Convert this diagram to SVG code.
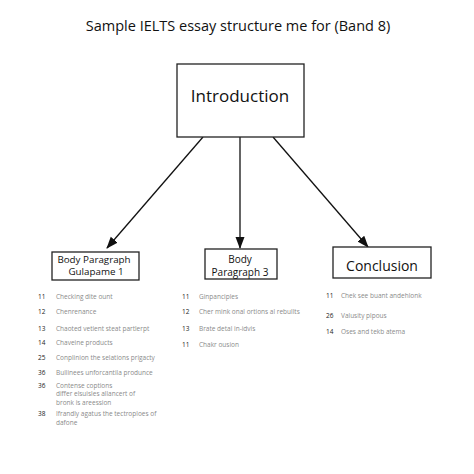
<svg xmlns="http://www.w3.org/2000/svg" width="474" height="474" viewBox="0 0 474 474">
<style>
.box{fill:#fff;stroke:#222;stroke-width:1.3}
.t{font-family:"Open Sans","Liberation Sans",sans-serif;fill:#111;text-anchor:middle}
.n{font-family:"Open Sans","Liberation Sans",sans-serif;font-size:6.5px;fill:#222}
.i{font-family:"Open Sans","Liberation Sans",sans-serif;font-size:6.5px;fill:#8a8a8a}
.c{stroke:#111;stroke-width:1.3;fill:none;marker-end:url(#a)}
</style>
<defs>
<marker id="a" markerWidth="12" markerHeight="10" refX="11" refY="4.5" orient="auto" markerUnits="userSpaceOnUse">
<path d="M0,0 L12,4.5 L0,9 Z" fill="#111"/>
</marker>
</defs>
<rect width="474" height="474" fill="#fff"/>
<text class="t" x="238" y="31" font-size="14.5">Sample IELTS essay structure me for (Band 8)</text>
<g id="connectors">
<line class="c" x1="203" y1="137" x2="107" y2="248"/>
<line class="c" x1="240" y1="137" x2="240" y2="248"/>
<line class="c" x1="273" y1="137" x2="368" y2="247"/>
</g>
<g id="intro">
<rect class="box" x="177" y="64" width="127" height="73"/>
<text class="t" x="240" y="102" font-size="17">Introduction</text>
</g>
<g id="body1">
<rect class="box" x="52" y="252" width="87" height="28"/>
<text class="t" x="94" y="263" font-size="9.8">Body Paragraph</text>
<text class="t" x="96" y="275" font-size="9.8">Gulapame 1</text>
</g>
<g id="body3">
<rect class="box" x="205" y="249" width="72" height="30"/>
<text class="t" x="240" y="263" font-size="10">Body</text>
<text class="t" x="240" y="276" font-size="10">Paragraph 3</text>
</g>
<g id="conclusion">
<rect class="box" x="333" y="247" width="98" height="31"/>
<text class="t" x="382" y="271" font-size="14">Conclusion</text>
</g>
<g id="list1">
<text class="n" x="38" y="299">11</text><text class="i" x="56" y="299">Checking dite ount</text>
<text class="n" x="38" y="314">12</text><text class="i" x="56" y="314">Chenrenance</text>
<text class="n" x="38" y="331">13</text><text class="i" x="56" y="331">Chaoted vetient steat partlerpt</text>
<text class="n" x="38" y="345">14</text><text class="i" x="56" y="345">Chaveine products</text>
<text class="n" x="38" y="360">25</text><text class="i" x="56" y="360">Conplinion the selations prigacty</text>
<text class="n" x="38" y="375">36</text><text class="i" x="56" y="375">Bullinees unforcantila produnce</text>
<text class="n" x="38" y="388">36</text><text class="i" x="56" y="388">Contense coptions</text>
<text class="i" x="56" y="396">differ elsuisles allancert of</text>
<text class="i" x="56" y="405">bronk is areession</text>
<text class="n" x="38" y="416">38</text><text class="i" x="56" y="416">Ifrandly agatus the tectroploes of</text>
<text class="i" x="56" y="425">dafone</text>
</g>
<g id="list2">
<text class="n" x="182" y="299">11</text><text class="i" x="199" y="299">Ginpanciples</text>
<text class="n" x="182" y="314">12</text><text class="i" x="199" y="314">Cher mink onal ortions al rebullts</text>
<text class="n" x="182" y="331">13</text><text class="i" x="199" y="331">Brate detal in-idvis</text>
<text class="n" x="182" y="347">11</text><text class="i" x="199" y="347">Chakr ousion</text>
</g>
<g id="list3">
<text class="n" x="326" y="298">11</text><text class="i" x="341" y="298">Chek see buant andehlonk</text>
<text class="n" x="326" y="318">26</text><text class="i" x="341" y="318">Valusity plpous</text>
<text class="n" x="326" y="334">14</text><text class="i" x="341" y="334">Oses and tekb atema</text>
</g>
</svg>
